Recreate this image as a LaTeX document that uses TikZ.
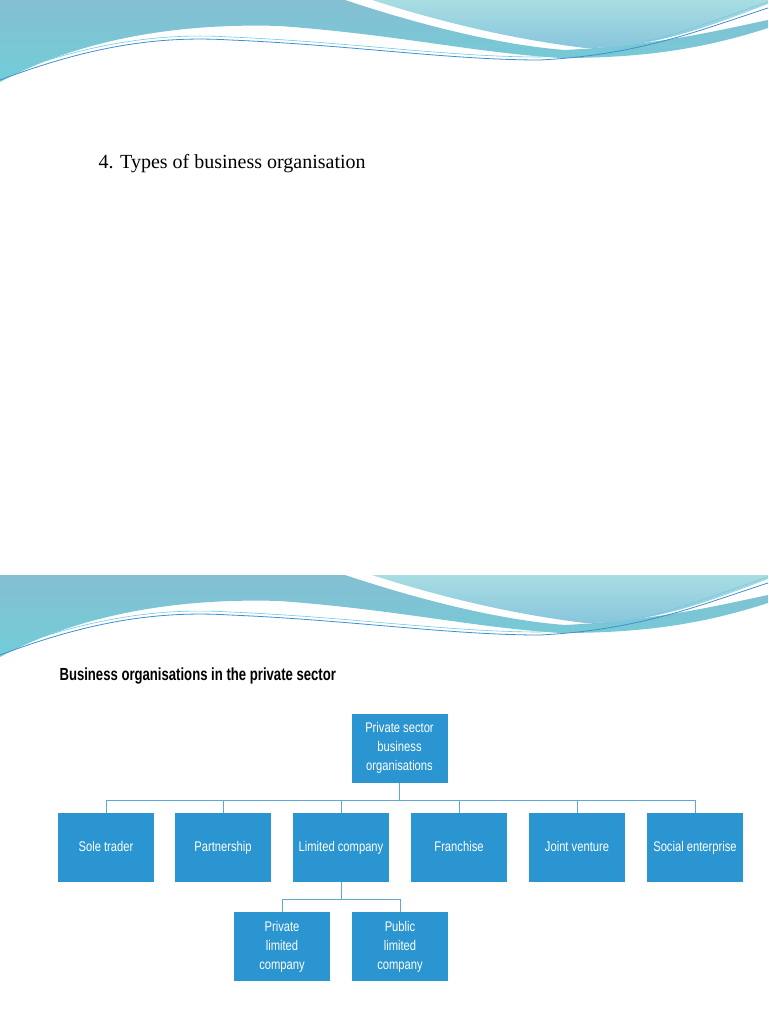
\documentclass[tikz,border=0pt]{standalone}
\usepackage{fontspec}
\setmainfont{Liberation Serif}
\newfontfamily\narrowfont[FakeStretch=0.8]{Liberation Sans}
\newfontfamily\headfont[FakeStretch=0.75]{Liberation Sans}
\definecolor{boxblue}{HTML}{2A95D0}
\definecolor{linkblue}{HTML}{5AA9D8}
\definecolor{waveA}{HTML}{84BFD2}
\definecolor{waveB}{HTML}{72CDD8}
\definecolor{waveC}{HTML}{A8DDE2}
\definecolor{waveD}{HTML}{3F8FD0}
\begin{document}
\begin{tikzpicture}[x=1pt,y=-1pt,
  orgbox/.style={fill=boxblue,text=white,minimum width=96pt,minimum height=69pt,inner sep=2pt,align=center,font=\narrowfont\fontsize{14}{19}\selectfont},
  link/.style={draw=linkblue,line width=0.8pt}]
\useasboundingbox (0,0) rectangle (768,1024);
\fill[white] (0,0) rectangle (768,1024);
\newcommand{\mywave}[1]{%
\begin{scope}[shift={(0,#1)}]
\shade[top color=waveA,bottom color=waveB] (0,0) -- (345,0) .. controls (420,25) and (500,45) .. (565,50) .. controls (660,45) and (720,30) .. (768,20) -- (768,28) .. controls (700,50) and (640,58) .. (560,58) .. controls (470,52) and (400,35) .. (280,26) .. controls (150,22) and (60,50) .. (0,82) -- cycle;
\shade[top color=waveC,bottom color=waveC!70!waveD] (372,0) -- (768,0) -- (768,4) .. controls (700,30) and (650,48) .. (585,48) .. controls (520,40) and (450,25) .. (372,0) -- cycle;
\draw[waveD,line width=0.8pt] (0,80) .. controls (80,50) and (150,35) .. (230,40) .. controls (350,45) and (450,60) .. (540,60) .. controls (640,55) and (700,30) .. (768,8);
\draw[waveB,line width=0.6pt] (0,76) .. controls (80,47) and (150,32) .. (230,37) .. controls (350,42) and (450,57) .. (540,57) .. controls (640,52) and (700,25) .. (768,2);
\end{scope}}
\mywave{0}
\mywave{575}
\node[anchor=west,font=\fontsize{20}{24}\selectfont] (t1) at (95,164) {4. Types of business organisation};
\node[anchor=west,font=\headfont\bfseries\fontsize{17.5}{21}\selectfont] (t2) at (56,676) {Business organisations in the private sector};
\node[orgbox] (root) at (399.5,748) {Private sector\\business\\organisations};
\foreach \n/\x/\t in {a/106/Sole trader,b/223/Partnership,c/341/Limited company,d/459/Franchise,e/577/Joint venture,f/695/Social enterprise}
  \node[orgbox,text height=11pt,text depth=3pt] (\n) at (\x,847.5) {\t};
\node[orgbox] (g) at (282,946.5) {Private\\limited\\company};
\node[orgbox] (h) at (400,946.5) {Public\\limited\\company};
\coordinate (bar) at (0,800);
\draw[link] (root.south) -- (root.south |- bar);
\draw[link] (a.north) -- (a.north |- bar) -- (f.north |- bar) -- (f.north);
\foreach \n in {b,c,d,e} \draw[link] (\n.north) -- (\n.north |- bar);
\coordinate (bar2) at (0,899);
\draw[link] (c.south) -- (c.south |- bar2);
\draw[link] (g.north) -- (g.north |- bar2) -- (h.north |- bar2) -- (h.north);
\end{tikzpicture}
\end{document}
